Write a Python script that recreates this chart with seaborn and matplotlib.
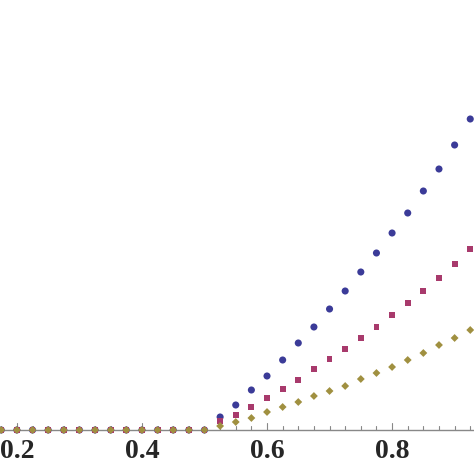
import numpy as np
import matplotlib
matplotlib.use("Agg")
import matplotlib.pyplot as plt
import seaborn as sns
import pandas as pd

sns.set_style("white")
plt.rcParams['font.family'] = ['Liberation Serif', 'DejaVu Serif']

x_zero = [round(0.025 * i, 3) for i in range(21)]  # 0 .. 0.5
x_rise = [0.525, 0.55, 0.575, 0.6, 0.625, 0.65, 0.675, 0.7, 0.725, 0.75,
          0.775, 0.8, 0.825, 0.85, 0.875, 0.9, 0.925]
blue = [13, 25, 40, 54, 70, 87, 103, 121, 139, 158, 177, 197, 217, 239, 261, 285, 311]
magenta = [9, 15, 23, 32, 41, 50, 61, 71, 81, 92, 103, 115, 127, 139, 152, 166, 181]
olive = [4, 8, 12, 18, 23, 28, 34, 39, 44, 51, 57, 63, 70, 77, 85, 92, 100]

xs = x_zero + x_rise
rows = []
for name, vals in [("a", blue), ("b", magenta), ("c", olive)]:
    for xv, yv in zip(xs, [0] * len(x_zero) + vals):
        rows.append({"x": xv, "y": yv, "s": name})
df = pd.DataFrame(rows)

fig = plt.figure(figsize=(4.74, 4.74), dpi=100)
ax = fig.add_axes([0, 0, 1, 1])
sns.scatterplot(data=df, x="x", y="y", hue="s", style="s",
                palette={"a": "#3b3b98", "b": "#a83a6c", "c": "#a09040"},
                markers={"a": "o", "b": "s", "c": "D"},
                size="s", sizes={"a": 26, "b": 18, "c": 16},
                linewidth=0, legend=False, ax=ax, zorder=3)
ax.set_xlim(0.173, 0.931)
ax.set_ylim(-44, 430)
for side in ["left", "right", "top", "bottom"]:
    ax.spines[side].set_visible(False)
ax.axhline(0, color="#888888", lw=1, zorder=1)
ax.set_yticks([])
ax.set_xlabel("")
ax.set_ylabel("")
ax.set_xticks([])
for t in [0.2, 0.4, 0.6, 0.8]:
    ax.text(t, -22, f"{t:.1f}", ha="center", va="center", fontsize=20, fontweight="bold")
for t in np.arange(0.175, 0.93, 0.025):
    ax.plot([t, t], [0, 4 if abs(t * 5 - round(t * 5)) > 1e-6 else 7], color="#888888", lw=0.8, zorder=1)
fig.savefig("out.png", dpi=100)
